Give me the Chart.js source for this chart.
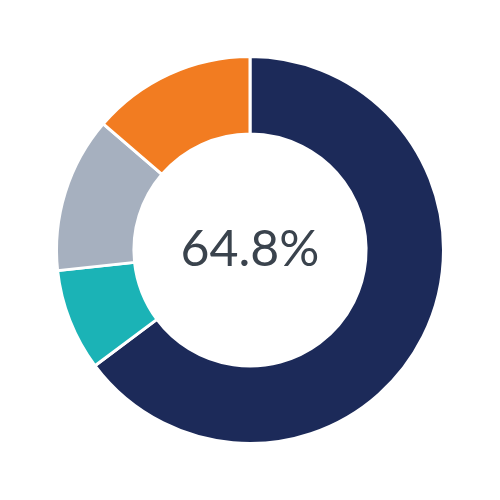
<!DOCTYPE html>
<html>
<head>
<meta charset="utf-8">
<script src="https://cdn.jsdelivr.net/npm/chart.js@4"></script>
<style>
    html, body { margin: 0; padding: 0; background: #ffffff; }
    #wrap { position: relative; width: 500px; height: 500px; }
</style>
</head>
<body>
<div id="wrap"><canvas id="donutChart"></canvas></div>
<script>
// Chart data
const labels = ['Navy', 'Teal', 'Gray', 'Orange'];
const values = [64.8, 8.5, 13.0, 13.7];
const colors = ['#1c2a59', '#1bb3b6', '#a6b0bf', '#f27c21'];
const centerLabel = '64.8%';

// Draws the big percentage in the hole
const centerText = {
    id: 'centerText',
    afterDraw: function (chart) {
        const ctx = chart.ctx;
        const meta = chart.getDatasetMeta(0).data[0];
        ctx.save();
        ctx.font = '400 50px Lato, "Open Sans", sans-serif';
        ctx.fillStyle = '#3a434d';
        ctx.textAlign = 'center';
        ctx.textBaseline = 'middle';
        ctx.fillText(centerLabel, meta.x, meta.y);
        ctx.restore();
    }
};

const ctx = document.getElementById('donutChart').getContext('2d');
new Chart(ctx, {
    type: 'doughnut',
    data: {
        labels: labels,
        datasets: [{
            data: values,
            backgroundColor: colors,
            borderColor: '#ffffff',
            borderWidth: 3
        }]
    },
    options: {
        responsive: true,
        maintainAspectRatio: false,
        animation: false,
        cutout: '60%',
        layout: { padding: 55 },
        plugins: {
            legend: { display: false },
            tooltip: { enabled: false }
        }
    },
    plugins: [centerText]
});
</script>
</body>
</html>
